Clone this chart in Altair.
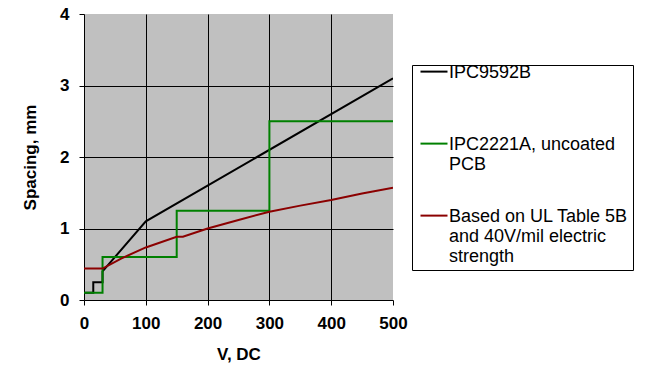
import altair as alt
import pandas as pd

series_names = ["IPC9592B", "IPC2221A, uncoated PCB", "Based on UL Table 5B and 40V/mil electric strength"]
legend_labels = {
    "IPC9592B": "IPC9592B||",
    "IPC2221A, uncoated PCB": "IPC2221A, uncoated|PCB|",
    "Based on UL Table 5B and 40V/mil electric strength": "Based on UL Table 5B|and 40V/mil electric|strength",
}
colors = ["#000000", "#008000", "#8B0000"]

ipc9592_v = [0, 15, 15, 30, 30, 100, 500]
ipc9592_s = [0.1, 0.1, 0.25, 0.25, 0.4, 1.1, 3.1]

ipc2221_v = [0, 30, 30, 150, 150, 300, 300, 500]
ipc2221_s = [0.1, 0.1, 0.6, 0.6, 1.25, 1.25, 2.5, 2.5]

ul_v = [0, 30, 60, 100, 150, 160, 200, 250, 300, 350, 400, 450, 500]
ul_s = [0.44, 0.44, 0.58, 0.735, 0.885, 0.885, 1.0, 1.12, 1.235, 1.32, 1.4, 1.49, 1.57]

rows = []
for name, vs, ss in [(series_names[0], ipc9592_v, ipc9592_s),
                     (series_names[1], ipc2221_v, ipc2221_s),
                     (series_names[2], ul_v, ul_s)]:
    for i, (v, s) in enumerate(zip(vs, ss)):
        rows.append({"series": legend_labels[name], "V": v, "S": s, "order": i})
df = pd.DataFrame(rows)

label_font = "Liberation Sans"

chart = alt.Chart(df).mark_line(strokeWidth=2, clip=True).encode(
    x=alt.X("V:Q", scale=alt.Scale(domain=[0, 500], nice=False),
            axis=alt.Axis(title="V, DC", values=[0, 100, 200, 300, 400, 500],
                          gridOpacity={"condition": {"test": "datum.value <= 0 || datum.value >= 500", "value": 0}, "value": 1},
                          titlePadding=15, labelFlush=False)),
    y=alt.Y("S:Q", scale=alt.Scale(domain=[0, 4], nice=False),
            axis=alt.Axis(title="Spacing, mm", values=[0, 1, 2, 3, 4],
                          gridOpacity={"condition": {"test": "datum.value <= 0 || datum.value >= 4", "value": 0}, "value": 1},
                          titlePadding=20, labelFlush=False)),
    color=alt.Color("series:N",
                    scale=alt.Scale(domain=[legend_labels[n] for n in series_names], range=colors),
                    legend=alt.Legend(title=None, orient="none", legendX=328, legendY=51,
                                      labelExpr="split(datum.label, '|')",
                                      symbolType="M-1,-1.42H5", symbolSize=81, symbolStrokeWidth=2,
                                      labelFont=label_font, labelFontSize=18, labelColor="black",
                                      labelLimit=400, labelOffset=15, labelBaseline="alphabetic",
                                      gridAlign="all", rowPadding=14,
                                      strokeColor="black", padding=4, fillColor="white")),
    order="order:Q",
).properties(
    width=309, height=286,
    padding={"left": 76, "top": 6, "right": 245, "bottom": 71},
    autosize=alt.AutoSizeParams(type="none"),
    background="white",
).configure(
    view={"fill": "#C0C0C0", "stroke": None},
    axis={
        "labelFont": label_font, "labelFontSize": 17, "labelFontWeight": "bold", "labelColor": "black",
        "titleFont": label_font, "titleFontSize": 17, "titleFontWeight": "bold", "titleColor": "black",
        "domainColor": "black", "domainWidth": 1, "tickColor": "black", "tickSize": 5, "tickWidth": 1,
        "gridColor": "black", "gridWidth": 1, "labelPadding": 10,
    },
    style={"guide-label": {"lineHeight": 20}},
)

chart.save("out.html", embed_options={"renderer": "svg", "actions": False})
